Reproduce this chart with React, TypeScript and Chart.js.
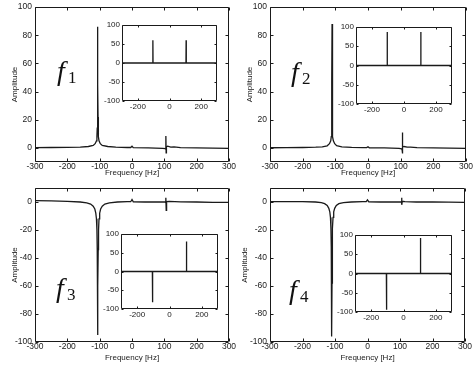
import React, { useEffect, useRef } from 'react';
import { Chart, registerables } from 'chart.js';

Chart.register(...registerables);

// ---------------- data ----------------
const MAIN_X_TICKS = [-300, -200, -100, 0, 100, 200, 300];
const TOP_Y_TICKS = [0, 20, 40, 60, 80, 100];
const BOTTOM_Y_TICKS = [-100, -80, -60, -40, -20, 0];
const INSET_X_TICKS = [-200, 0, 200];
const INSET_Y_TICKS = [-100, -50, 0, 50, 100];

const F1_FREQ = [-300, -250, -200, -160, -135, -120, -114, -110, -108.5, -107.5, -107, -106.5, -106, -105.5, -105, -104.5, -103.5, -102, -98, -92, -75, -50, -15, -4, 0, 4, 50, 95, 103, 104.5, 105, 105.6, 106.5, 110, 120, 130, 150, 200, 250, 300];
const F1_AMP = [0.2, 0.3, 0.4, 0.6, 1.0, 1.8, 3, 5, 8, 14, 22, 45, 86, 45, 22, 14, 8, 5, 3, 1.8, 1.0, 0.6, 0.3, 0.3, 1.2, 0.2, 0, -0.3, -0.5, -1, 8.5, -3.5, 0.8, 1.2, 0.5, 0.8, 0.2, 0, -0.2, -0.3];

const F2_FREQ = [-300, -250, -200, -160, -140, -125, -118, -114, -112.5, -111.5, -111, -110.5, -110, -109.5, -109, -108.5, -107.5, -106, -102, -96, -80, -50, -15, -4, 0, 4, 50, 95, 103, 104.5, 105, 105.6, 106.5, 110, 120, 130, 150, 200, 250, 300];
const F2_AMP = [0.1, 0.2, 0.3, 0.5, 0.8, 1.5, 3, 5, 8, 14, 24, 48, 88, 48, 24, 14, 8, 5, 3, 1.6, 0.8, 0.4, 0.2, 0.2, 0.8, 0.1, 0, -0.3, -0.6, -1.5, 11, -4, 0.6, 1.0, 0.5, 0.6, 0.2, 0, -0.2, -0.3];

const F3_FREQ = [-300, -250, -200, -160, -140, -128, -120, -115, -112, -110, -108.5, -107.5, -106.8, -106, -105.2, -104.5, -103.5, -102, -100, -97, -92, -84, -70, -45, -15, -4, 0, 4, 40, 90, 103, 104.3, 105, 105.8, 107, 115, 150, 200, 250, 300];
const F3_AMP = [1.0, 0.8, 0.5, 0, -0.6, -1.5, -3, -5, -8, -12, -20, -34, -60, -95, -60, -34, -20, -12, -8, -5, -3, -1.5, -0.6, 0, 0.2, 0.2, 1.8, 0.1, 0, 0, 0, -0.5, 3, -6, 0.3, 0.4, 0.1, 0, -0.2, -0.3];

const F4_FREQ = [-300, -250, -200, -160, -142, -132, -124, -119, -116, -114, -112.5, -111.5, -110.8, -110, -109.2, -108.5, -107.5, -106, -104, -101, -96, -88, -74, -50, -15, -4, 0, 4, 40, 90, 103, 104.3, 105, 105.8, 107, 115, 150, 200, 250, 300];
const F4_AMP = [0.3, 0.3, 0.2, 0, -0.5, -1.2, -2.5, -4.5, -7, -11, -19, -32, -58, -96, -58, -32, -19, -11, -7, -4.5, -2.5, -1.2, -0.5, 0, 0.2, 0.2, 1.5, 0.1, 0, 0, 0, 0.3, 3, -2, 0.5, 0.3, 0, 0, -0.1, -0.2];

const INSET_FREQ = [-300, -106, -105, -104, 104, 105, 106, 300];
const INSET1_AMP = [0, 0, 60, 0, 0, 60, 0, 0];
const INSET2_AMP = [0, 0, 87, 0, 0, 87, 0, 0];
const INSET3_AMP = [0, 0, -82, 0, 0, 80, 0, 0];
const INSET4_AMP = [0, 0, -94, 0, 0, 92, 0, 0];

const PANEL_LABELS = ['1', '2', '3', '4'];

// ---------------- layout / style ----------------
const INK = '#1a1a1a';
const SANS = '"Liberation Sans", Arial, Helvetica, sans-serif';
const SERIF = '"Liberation Serif", "Times New Roman", serif';

type Rect = [number, number, number, number]; // left, top, right, bottom (page px)

interface PanelSpec {
  freq: number[];
  amp: number[];
  yMin: number;
  yMax: number;
  yTicks: number[];
  plot: Rect;
  xAxisH: number;
  yTitleX: number;
  label: string;
  labelPos: [number, number];
  insetAmp: number[];
  insetPlot: Rect;
}

const PANELS: PanelSpec[] = [
  { freq: F1_FREQ, amp: F1_AMP, yMin: -10, yMax: 100, yTicks: TOP_Y_TICKS, plot: [35, 7, 229, 162], xAxisH: 16, yTitleX: 15, label: PANEL_LABELS[0], labelPos: [57, 80], insetAmp: INSET1_AMP, insetPlot: [122, 25, 217, 101] },
  { freq: F2_FREQ, amp: F2_AMP, yMin: -10, yMax: 100, yTicks: TOP_Y_TICKS, plot: [270, 7, 466, 162], xAxisH: 16, yTitleX: 250, label: PANEL_LABELS[1], labelPos: [291, 81], insetAmp: INSET2_AMP, insetPlot: [356, 27, 452, 104] },
  { freq: F3_FREQ, amp: F3_AMP, yMin: -100, yMax: 10, yTicks: BOTTOM_Y_TICKS, plot: [35, 188, 229, 342], xAxisH: 21, yTitleX: 15, label: PANEL_LABELS[2], labelPos: [56, 297], insetAmp: INSET3_AMP, insetPlot: [121, 234, 218, 309] },
  { freq: F4_FREQ, amp: F4_AMP, yMin: -100, yMax: 10, yTicks: BOTTOM_Y_TICKS, plot: [270, 188, 465, 342], xAxisH: 21, yTitleX: 245, label: PANEL_LABELS[3], labelPos: [289, 299], insetAmp: INSET4_AMP, insetPlot: [355, 235, 452, 312] },
];

function zip(xs: number[], ys: number[]) {
  return xs.map((x, i) => ({ x, y: ys[i] }));
}

function boxPlugin(tickLen: number, whiteBg: boolean, label?: { text: string; x: number; y: number }) {
  return {
    id: 'matlabBox',
    beforeDraw(chart: any) {
      if (!whiteBg) return;
      const { ctx, chartArea: a } = chart;
      ctx.save();
      ctx.fillStyle = '#fff';
      ctx.fillRect(a.left, a.top, a.right - a.left, a.bottom - a.top);
      ctx.restore();
    },
    afterDatasetsDraw(chart: any) {
      const { ctx, chartArea: a, scales } = chart;
      const L = Math.round(a.left) + 0.5;
      const R = Math.round(a.right) - 0.5;
      const T = Math.round(a.top) + 0.5;
      const B = Math.round(a.bottom) - 0.5;
      ctx.save();
      ctx.strokeStyle = INK;
      ctx.lineWidth = 1;
      ctx.beginPath();
      ctx.rect(L, T, R - L, B - T);
      for (const t of scales.x.ticks) {
        const px = Math.round(scales.x.getPixelForValue(t.value)) + 0.5;
        ctx.moveTo(px, B);
        ctx.lineTo(px, B - tickLen);
        ctx.moveTo(px, T);
        ctx.lineTo(px, T + tickLen);
      }
      for (const t of scales.y.ticks) {
        const py = Math.round(scales.y.getPixelForValue(t.value)) + 0.5;
        ctx.moveTo(L, py);
        ctx.lineTo(L + tickLen, py);
        ctx.moveTo(R, py);
        ctx.lineTo(R - tickLen, py);
      }
      ctx.stroke();
      if (label) {
        ctx.fillStyle = '#111';
        ctx.textBaseline = 'alphabetic';
        ctx.textAlign = 'left';
        ctx.font = `italic 28px ${SERIF}`;
        ctx.fillText('f', label.x, label.y);
        ctx.font = `17px ${SERIF}`;
        ctx.fillText(label.text, label.x + 11, label.y + 3);
      }
      ctx.restore();
    },
  };
}

interface ChartBoxProps {
  left: number;
  top: number;
  width: number;
  height: number;
  makeConfig: () => any;
}

function ChartBox({ left, top, width, height, makeConfig }: ChartBoxProps) {
  const ref = useRef<HTMLCanvasElement | null>(null);
  useEffect(() => {
    if (!ref.current) return;
    const chart = new Chart(ref.current, makeConfig());
    return () => chart.destroy();
  }, []);
  return (
    <canvas
      ref={ref}
      width={width}
      height={height}
      style={{ position: 'absolute', left, top, width, height }}
    />
  );
}

const MAIN_Y_W = 35;
const MAIN_PAD_TOP = 10;
const MAIN_PAD_RIGHT = 12;
const INSET_Y_W = 24;
const INSET_PAD_TOP = 8;
const INSET_PAD_RIGHT = 10;
const INSET_X_H = 12;

function mainGeometry(p: PanelSpec) {
  const [L, T, R, B] = p.plot;
  return {
    left: L - MAIN_Y_W,
    top: T - MAIN_PAD_TOP,
    width: R - L + MAIN_Y_W + MAIN_PAD_RIGHT,
    height: B - T + MAIN_PAD_TOP + p.xAxisH,
  };
}

function insetGeometry(p: PanelSpec) {
  const [L, T, R, B] = p.insetPlot;
  return {
    left: L - INSET_Y_W,
    top: T - INSET_PAD_TOP,
    width: R - L + INSET_Y_W + INSET_PAD_RIGHT,
    height: B - T + INSET_PAD_TOP + INSET_X_H,
  };
}

function mainConfig(p: PanelSpec) {
  const g = mainGeometry(p);
  const tickFont = { family: SANS, size: 8.5 };
  const titleFont = { family: SANS, size: 8 };
  return {
    type: 'scatter',
    data: {
      datasets: [
        {
          data: zip(p.freq, p.amp),
          showLine: true,
          borderColor: INK,
          borderWidth: 1.3,
          pointRadius: 0,
          tension: 0,
        },
      ],
    },
    options: {
      animation: false,
      responsive: false,
      devicePixelRatio: 1,
      events: [],
      layout: { padding: { top: MAIN_PAD_TOP, right: MAIN_PAD_RIGHT, left: 0, bottom: 0 } },
      plugins: { legend: { display: false }, tooltip: { enabled: false } },
      scales: {
        x: {
          type: 'linear',
          min: -300,
          max: 300,
          afterBuildTicks: (s: any) => { s.ticks = MAIN_X_TICKS.map((v) => ({ value: v })); },
          afterFit: (s: any) => { s.height = p.xAxisH; },
          grid: { display: false, drawTicks: false },
          border: { display: false },
          ticks: { color: INK, font: tickFont, padding: 0, maxRotation: 0, autoSkip: false },
          title: { display: true, text: 'Frequency [Hz]', color: INK, font: titleFont, padding: { top: 0, bottom: 0 } },
        },
        y: {
          type: 'linear',
          min: p.yMin,
          max: p.yMax,
          afterBuildTicks: (s: any) => { s.ticks = p.yTicks.map((v) => ({ value: v })); },
          afterFit: (s: any) => { s.width = MAIN_Y_W; },
          grid: { display: false, drawTicks: false },
          border: { display: false },
          ticks: { color: INK, font: tickFont, padding: 3, autoSkip: false },
          title: {
            display: true,
            text: 'Amplitude',
            color: INK,
            font: titleFont,
            padding: { top: Math.max(0, p.yTitleX - g.left - 4.8), bottom: 0 },
          },
        },
      },
    },
    plugins: [
      boxPlugin(3, false, { text: p.label, x: p.labelPos[0] - g.left, y: p.labelPos[1] - g.top }),
    ],
  };
}

function insetConfig(p: PanelSpec) {
  const tickFont = { family: SANS, size: 8 };
  return {
    type: 'scatter',
    data: {
      datasets: [
        {
          data: zip(INSET_FREQ, p.insetAmp),
          showLine: true,
          borderColor: INK,
          borderWidth: 1.3,
          pointRadius: 0,
          tension: 0,
        },
      ],
    },
    options: {
      animation: false,
      responsive: false,
      devicePixelRatio: 1,
      events: [],
      layout: { padding: { top: INSET_PAD_TOP, right: INSET_PAD_RIGHT, left: 0, bottom: 0 } },
      plugins: { legend: { display: false }, tooltip: { enabled: false } },
      scales: {
        x: {
          type: 'linear',
          min: -300,
          max: 300,
          afterBuildTicks: (s: any) => { s.ticks = INSET_X_TICKS.map((v) => ({ value: v })); },
          afterFit: (s: any) => { s.height = INSET_X_H; },
          grid: { display: false, drawTicks: false },
          border: { display: false },
          ticks: { color: INK, font: tickFont, padding: 1, maxRotation: 0, autoSkip: false },
        },
        y: {
          type: 'linear',
          min: -100,
          max: 100,
          afterBuildTicks: (s: any) => { s.ticks = INSET_Y_TICKS.map((v) => ({ value: v })); },
          afterFit: (s: any) => { s.width = INSET_Y_W; },
          grid: { display: false, drawTicks: false },
          border: { display: false },
          ticks: { color: INK, font: tickFont, padding: 2, autoSkip: false },
        },
      },
    },
    plugins: [boxPlugin(2, true)],
  };
}

export default function App() {
  return (
    <div
      style={{
        position: 'absolute',
        left: 0,
        top: 0,
        width: 474,
        height: 369,
        background: '#fff',
        overflow: 'hidden',
      }}
    >
      {PANELS.map((p, i) => {
        const g = mainGeometry(p);
        return <ChartBox key={'m' + i} {...g} makeConfig={() => mainConfig(p)} />;
      })}
      {PANELS.map((p, i) => {
        const g = insetGeometry(p);
        return <ChartBox key={'i' + i} {...g} makeConfig={() => insetConfig(p)} />;
      })}
    </div>
  );
}
